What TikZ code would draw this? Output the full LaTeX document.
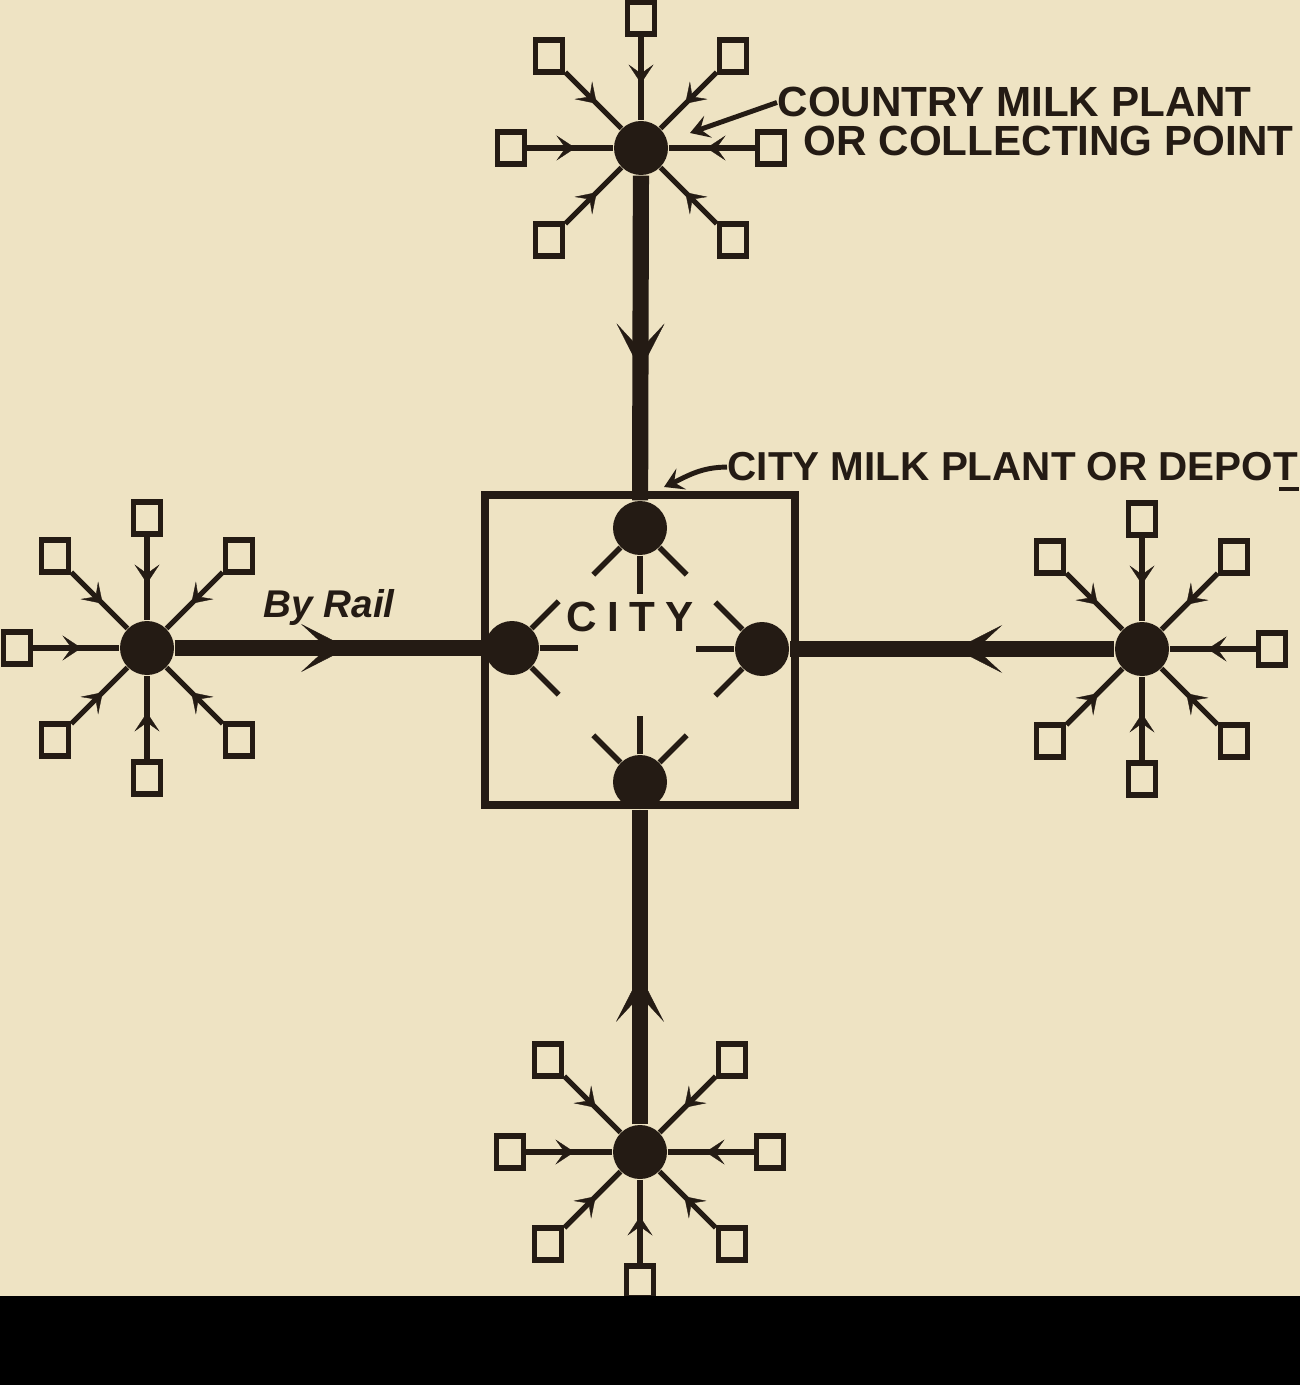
\documentclass[tikz,border=0pt]{standalone}
\usepackage{fontspec}
\setmainfont{Liberation Sans}
\usepackage{xcolor}
\usetikzlibrary{arrows.meta, decorations.markings, positioning}

\definecolor{paper}{RGB}{238,227,195}
\definecolor{ink}{RGB}{36,27,20}

\tikzset{
  farm/.style={draw=ink, line width=1.55pt, minimum width=2.7mm, minimum height=3.2mm, inner sep=0pt},
  hub/.style={circle, fill=ink, minimum size=5.4mm, inner sep=0pt},
  spoke/.style={ink, line width=1.5pt, postaction={decorate, decoration={markings,
      mark=at position 0.56 with {\arrow{Stealth[length=1.9mm, width=2.5mm, inset=0.9mm, line width=0.1pt]}}}}},
  trunk/.style={ink, line width=4.6pt, postaction={decorate, decoration={markings,
      mark=at position #1 with {\arrow{Stealth[length=4.7mm, width=4.8mm, inset=2.6mm, line width=0.1pt]}}}}},
  stub/.style={ink, line width=1.6pt},
  label/.style={text=ink, inner sep=0pt, font=\fontsize{12}{14}\selectfont\bfseries},
  leader/.style={ink, line width=1.4pt, -{Stealth[length=1.9mm, width=2.3mm, inset=0.8mm]}},
}

\begin{document}
\begin{tikzpicture}[x=0.1mm, y=-0.1mm]
\useasboundingbox (0,0) rectangle (1300,1385);
\fill[paper] (0,0) rectangle (1300,1296);

% city and its plants
\node[draw=ink, line width=2.3pt, minimum size=31mm, inner sep=0pt] (city) at (640,650) {};
\node[label] (citytext) at (630,617) {C\hspace{3pt}I\hspace{3pt}T\hspace{3pt}Y};

\node[hub] (T) at (641,148) {};
\node[hub] (L) at (147,648) {};
\node[hub] (R) at (1142,649) {};
\node[hub] (B) at (640,1152) {};
\node[hub] (CT) at (640,528) {};
\node[hub] (CL) at (512,648) {};
\node[hub] (CR) at (762,649) {};
\node[hub] (CB) at (640,782) {};

% farms round each country plant
\foreach \s/\angs in {T/{0,45,90,135,180,225,315}, L/{45,90,135,180,225,270,315}, R/{0,45,90,135,225,270,315}, B/{0,45,135,180,225,270,315}} {
  \foreach \a in \angs {
    \path (\s) ++(\a:13mm) node[farm] (\s\a) {};
    \draw[spoke] (\s\a) -- (\s);
  }
}

\draw[trunk=0.6] (T) -- (CT);
\draw[trunk=0.56] (L) -- (CL);
\draw[trunk=0.49] (R) -- (CR);
\draw[trunk=0.475] (B) -- (CB);

\foreach \hb/\dir in {CT/270, CL/0, CR/180, CB/90} {
  \foreach \off [count=\k] in {-45,0,45} {
    \pgfmathtruncatemacro{\ang}{\dir+\off}
    \path (\hb) ++(\ang:6.6mm) coordinate (\hb-\k);
    \draw[stub] (\hb.\ang) -- (\hb-\k);
  }
}

% labels
\node[label, anchor=base west] (country) at (777,117) {COUNTRY MILK PLANT};
\node[label, anchor=base west] (collect) at (803,156) {OR COLLECTING POINT};
\node[label, font=\fontsize{11.5}{14}\selectfont\bfseries, anchor=base west] (depot) at (727,481) {CITY MILK PLANT OR DEPOT};
\node[label, font=\fontsize{11}{13}\selectfont\bfseries\itshape, anchor=base west] (rail) at (263,617) {By Rail};

\coordinate (cpt) at (690,133);
\coordinate (dpt) at (664,487);
\draw[leader] (country.west) -- (cpt);
\draw[leader] (depot.west) to[out=180, in=25] (dpt);
\draw[ink, line width=1.2pt] ([yshift=-0.8mm]depot.base east) -- ++(-2mm,0);

\fill[black] (0,1296) rectangle (1300,1385);
\end{tikzpicture}
\end{document}
